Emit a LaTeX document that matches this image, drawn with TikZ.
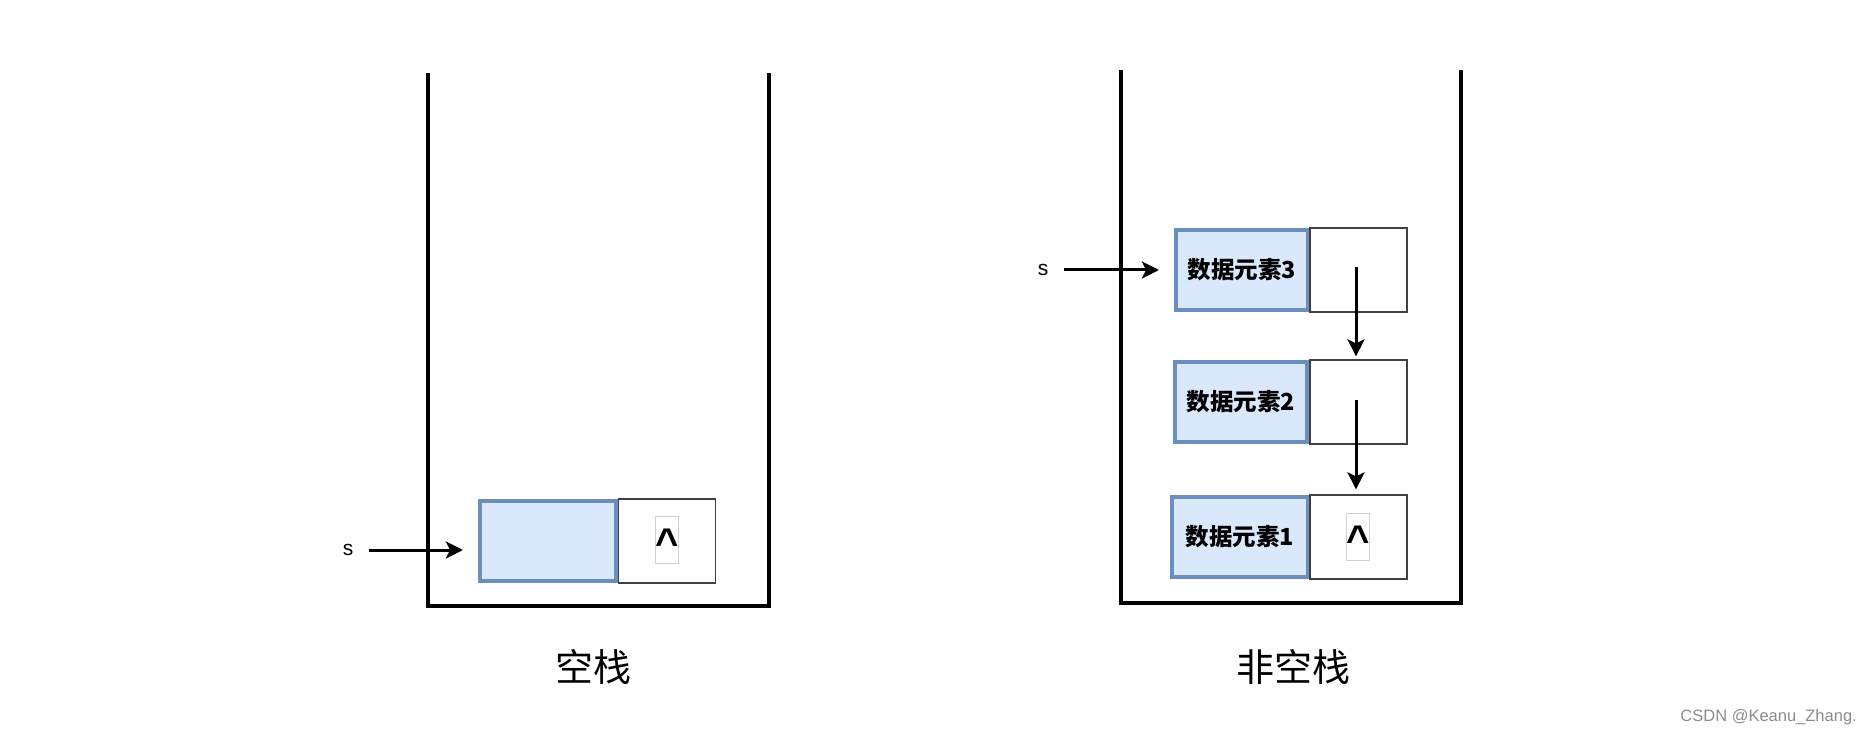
\documentclass[tikz,border=0pt]{standalone}
\usepackage{fontspec}
\setmainfont{Liberation Sans}
\newfontfamily\cjk{Noto Sans CJK SC}
\usetikzlibrary{arrows.meta}
\definecolor{bfill}{HTML}{DAE8FC}
\definecolor{bdraw}{HTML}{6C8EBF}
\tikzset{
  wall/.style={line width=4.5pt, line cap=rect},
  databox/.style={draw=bdraw, fill=bfill, line width=4pt, minimum height=80pt, inner sep=0pt, font=\cjk\bfseries\fontsize{23.5}{26}\selectfont},
  ptrbox/.style={draw=black!75, fill=white, line width=1.2pt, minimum width=97pt, minimum height=84pt, inner sep=0pt},
  nilcell/.style={draw=black!18, line width=1pt, minimum width=19pt, minimum height=47pt, inner sep=0pt, text height=32pt, text depth=0pt, font=\bfseries\fontsize{40}{40}\selectfont},
  arr/.style={line width=3pt, -{Stealth[length=17pt,width=17pt,inset=4pt]}},
  slabel/.style={inner sep=0pt, font=\fontsize{21}{21}\selectfont},
  title/.style={inner sep=0pt, font=\cjk\fontsize{38}{40}\selectfont}
}
\begin{document}
\begin{tikzpicture}[x=1pt,y=-1pt]
\useasboundingbox[fill=white] (0,0) rectangle (1875,735);
% containers
\draw[wall] (428,75) -- (428,606) -- (769,606) -- (769,75);
\draw[wall] (1121,72) -- (1121,603) -- (1461,603) -- (1461,72);
% left: empty stack
\node[databox, minimum width=136pt] (lb) at (548,541) {};
\node[ptrbox] (lw) at (667,541) {};
\node[nilcell] (ln) at (667,540) {\^{}};
\node[slabel] (sl) at (348,550) {s};
\draw[arr, shorten <=16pt, shorten >=15pt] (sl.east) -- (sl.east -| lb.west);
% right: non-empty stack
\node[databox, minimum width=132pt] (b3) at (1242,270) {数据元素3};
\node[ptrbox] (w3) at (1358.5,270) {};
\node[databox, minimum width=132pt] (b2) at (1241,402) {数据元素2};
\node[ptrbox] (w2) at (1358.5,402) {};
\node[databox, minimum width=136pt] (b1) at (1240,537) {数据元素1};
\node[ptrbox] (w1) at (1358.5,537) {};
\node[nilcell] (rn) at (1358,537) {\^{}};
\node[slabel] (sr) at (1043,270) {s};
\draw[arr, shorten <=16pt, shorten >=15pt] (sr.east) -- (sr.east -| b3.west);
\coordinate (p3) at (1356,267);
\coordinate (p2) at (1356,400);
\draw[arr, shorten >=3pt] (p3) -- (p3 |- w2.north);
\draw[arr, shorten >=5pt] (p2) -- (p2 |- w1.north);
% titles
\node[title] (t1) at (593,667) {空栈};
\node[title] (t2) at (1293,667) {非空栈};
\node[inner sep=0pt, anchor=east, text=black!45, font=\fontsize{16.5}{18}\selectfont] (wm) at (1857,717) {CSDN @Keanu\_Zhang.};
\end{tikzpicture}
\end{document}
